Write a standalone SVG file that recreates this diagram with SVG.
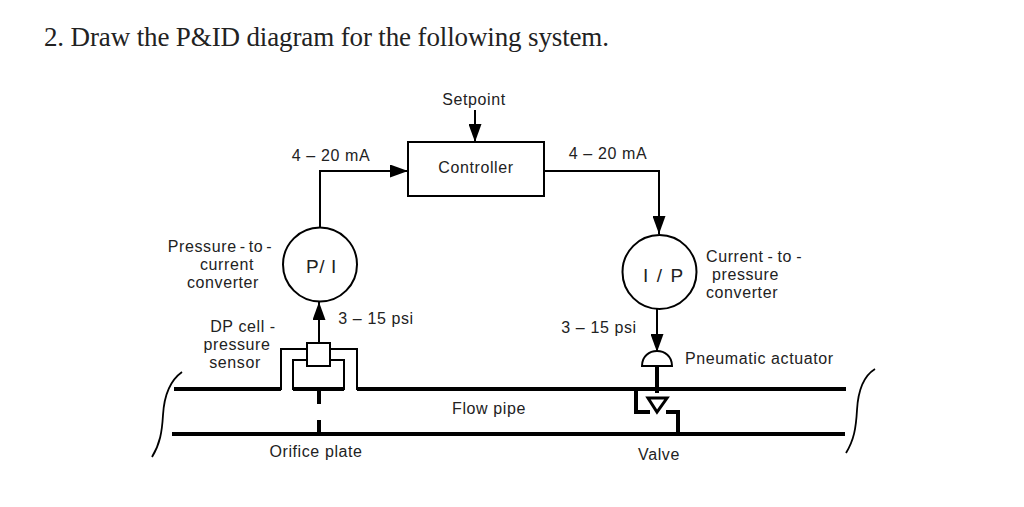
<svg xmlns="http://www.w3.org/2000/svg" width="1024" height="507" viewBox="0 0 1024 507">
<style>
.t{font-family:"Liberation Sans",Arial,sans-serif;font-size:16px;fill:#222;letter-spacing:.6px}
.m{text-anchor:middle}
.h{font-family:"Liberation Serif",serif;font-size:27px;fill:#222}
.l{fill:none;stroke:#000;stroke-width:2}
.p{fill:none;stroke:#000;stroke-width:4}
.n{fill:#fff;stroke:#000;stroke-width:2}
.c{fill:none;stroke:#000;stroke-width:1.8}
.b{font-size:19px}
</style>
<defs><marker id="a" markerUnits="userSpaceOnUse" markerWidth="19" markerHeight="13" refX="18" refY="6.5" orient="auto"><path d="M0 0L18 6.5L0 13Z"/></marker></defs>
<rect width="1024" height="507" fill="#fff"/>
<text class="h" x="44" y="46" textLength="565" lengthAdjust="spacing">2. Draw the P&amp;ID diagram for the following system.</text>
<g id="connectors">
<path class="l" d="M320 227V171H408" marker-end="url(#a)"/>
<path class="l" d="M544 171H659V234" marker-end="url(#a)"/>
<path class="l" d="M475 110V142" marker-end="url(#a)"/>
<path class="l" d="M319 343V302" marker-end="url(#a)"/>
<path class="l" d="M657 308V352" marker-end="url(#a)"/>
</g>
<g id="pipe">
<path class="p" d="M174 389H281M293 389H344M357 389H846"/>
<path class="p" d="M172 434H845"/>
<path class="l" d="M281 390V349H307M330 349H357V390M293 390V360H307M330 360H344V390"/>
<path class="p" d="M319 390V404M319 420V434"/>
<path class="c" d="M182 372C168 382 164 398 163 415C162 432 160 444 152 457"/>
<path class="c" d="M875 369C862 377 858 392 857 410C856 428 854 440 846 453"/>
</g>
<g id="controller"><rect class="n" x="408" y="142" width="136" height="54"/><text class="t m" x="476" y="173">Controller</text></g>
<g id="setpoint"><text class="t m" x="474" y="105">Setpoint</text></g>
<g id="pi"><circle class="n" cx="320" cy="264.500" r="37"/><text class="t b" x="306" y="273">P/ I</text></g>
<g id="ip"><circle class="n" cx="659.500" cy="272" r="37"/><text class="t b" x="643" y="282" style="word-spacing:2px">I / P</text></g>
<g id="dp-cell"><rect class="n" x="307" y="343" width="23" height="23"/></g>
<g id="valve">
<path class="n" d="M642 366C642 346 672 346 672 366Z"/>
<path d="M657 366V393" stroke="#000" stroke-width="4"/>
<path class="p" d="M636 390V412H650M666 412H678V432"/>
<path d="M648 398H667L657 412Z" fill="#fff" stroke="#000" stroke-width="3"/>
</g>
<g id="labels">
<text class="t m" x="331" y="161">4 – 20 mA</text>
<text class="t m" x="608" y="159">4 – 20 mA</text>
<text class="t m" x="220" y="252" style="word-spacing:-2px">Pressure - to -</text>
<text class="t m" x="227" y="270">current</text>
<text class="t m" x="223" y="288">converter</text>
<text class="t" x="706" y="262" style="word-spacing:-1px">Current - to -</text>
<text class="t" x="712" y="280">pressure</text>
<text class="t" x="706" y="298">converter</text>
<text class="t m" x="376" y="324">3 – 15 psi</text>
<text class="t m" x="599" y="333">3 – 15 psi</text>
<text class="t m" x="243" y="332">DP cell -</text>
<text class="t m" x="237" y="350">pressure</text>
<text class="t m" x="235" y="368">sensor</text>
<text class="t" x="685" y="364">Pneumatic actuator</text>
<text class="t m" x="489" y="414">Flow pipe</text>
<text class="t m" x="316" y="457">Orifice plate</text>
<text class="t m" x="659" y="460">Valve</text>
</g>
</svg>
